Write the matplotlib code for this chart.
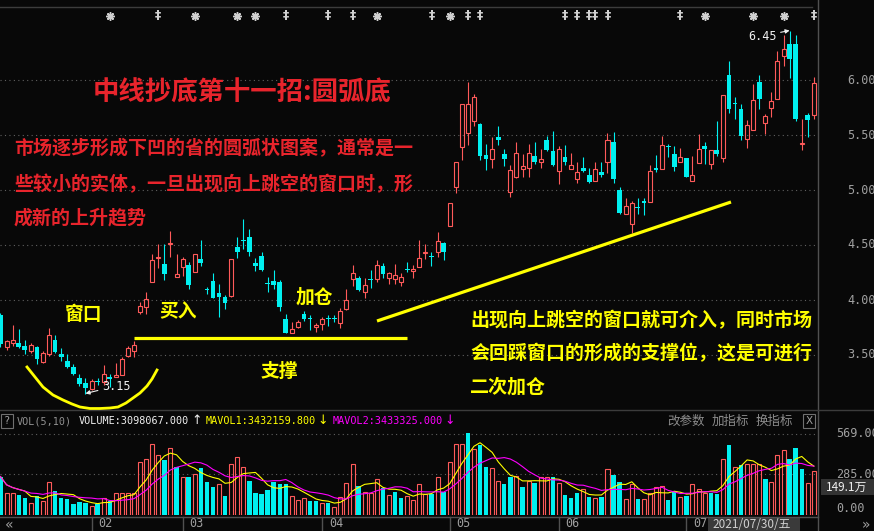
import numpy as np
import pandas as pd
import matplotlib
matplotlib.use("Agg")
import matplotlib.pyplot as plt
from matplotlib.lines import Line2D
from matplotlib.patches import Rectangle

plt.rcParams['font.family'] = ['Noto Sans CJK SC', 'DejaVu Sans']

# ---------------- data ----------------
opens = [3.86, 3.57, 3.61, 3.61, 3.58, 3.54, 3.573, 3.44, 3.51, 3.636,
         3.51, 3.445, 3.39, 3.294, 3.25, 3.194, 3.262, 3.255, 3.297, 3.30,
         3.32, 3.49, 3.54, 3.894, 3.94, 4.167, 4.378, 4.327, 4.513, 4.21,
         4.297, 4.318, 4.258, 4.373, 4.092, 4.17, 4.06, 4.027, 4.04, 4.48,
         4.538, 4.57, 4.34, 4.40, 4.146, 4.17, 4.167, 3.827, 3.703, 3.758,
         3.87, 3.829, 3.758, 3.782, 3.829, 3.830, 3.788, 3.915, 4.19, 4.2,
         4.076, 4.19, 4.188, 4.312, 4.197, 4.194, 4.167, 4.275, 4.264, 4.297,
         4.428, 4.396, 4.433, 4.515, 4.676, 5.024, 5.394, 5.52, 5.63, 5.60,
         5.318, 5.285, 5.482, 5.327, 4.985, 5.12, 5.194, 5.203, 5.309, 5.252,
         5.452, 5.355, 5.176, 5.30, 5.194, 5.097, 5.20, 5.133, 5.079, 5.164,
         5.252, 5.433, 4.997, 4.779, 4.688, 4.838, 4.90, 4.894, 5.203, 5.188,
         5.392, 5.324, 5.252, 5.291, 5.079, 5.248, 5.40, 5.233, 5.364, 5.288,
         6.045, 5.787, 5.736, 5.461, 5.542, 5.982, 5.606, 5.742, 5.83, 6.218,
         6.327, 6.327, 5.418, 5.679, 5.685]
highs = [3.88, 3.64, 3.77, 3.74, 3.64, 3.61, 3.58, 3.54, 3.75, 3.68,
         3.56, 3.51, 3.42, 3.33, 3.29, 3.28, 3.29, 3.41, 3.33, 3.43,
         3.485, 3.585, 3.63, 3.985, 4.07, 4.418, 4.51, 4.51, 4.627, 4.418,
         4.39, 4.35, 4.418, 4.545, 4.115, 4.25, 4.145, 4.045, 4.37, 4.576,
         4.736, 4.645, 4.38, 4.433, 4.206, 4.27, 4.18, 3.873, 3.80, 3.818,
         3.90, 3.864, 3.794, 3.85, 3.864, 3.864, 3.924, 4.097, 4.318, 4.218,
         4.197, 4.27, 4.364, 4.34, 4.258, 4.327, 4.248, 4.342, 4.318, 4.545,
         4.51, 4.433, 4.615, 4.53, 4.879, 5.252, 5.782, 5.98, 5.873, 5.612,
         5.418, 5.479, 5.58, 5.373, 5.227, 5.433, 5.327, 5.418, 5.433, 5.373,
         5.49, 5.536, 5.40, 5.41, 5.333, 5.255, 5.30, 5.20, 5.255, 5.255,
         5.515, 5.524, 5.024, 4.924, 4.903, 4.924, 4.924, 5.227, 5.318, 5.494,
         5.415, 5.40, 5.382, 5.291, 5.309, 5.509, 5.436, 5.36, 5.627, 5.86,
         6.173, 5.842, 5.782, 5.636, 5.964, 6.045, 5.69, 5.89, 6.264, 6.41,
         6.45, 6.41, 5.645, 5.697, 6.024]
lows = [3.57, 3.55, 3.58, 3.56, 3.51, 3.515, 3.418, 3.424, 3.494, 3.515,
        3.45, 3.38, 3.32, 3.22, 3.15, 3.18, 3.225, 3.23, 3.21, 3.30,
        3.32, 3.485, 3.485, 3.873, 3.873, 4.167, 4.29, 4.18, 4.39, 4.206,
        4.218, 4.10, 4.258, 4.31, 4.055, 4.015, 3.85, 3.915, 4.03, 4.38,
        4.464, 4.403, 4.267, 4.267, 4.076, 4.097, 3.90, 3.697, 3.697, 3.75,
        3.812, 3.727, 3.712, 3.727, 3.767, 3.80, 3.75, 3.91, 4.127, 4.082,
        4.02, 4.11, 4.167, 4.203, 4.145, 4.142, 4.13, 4.252, 4.203, 4.297,
        4.37, 4.312, 4.394, 4.364, 4.676, 4.97, 5.273, 5.41, 5.585, 5.273,
        5.18, 5.203, 5.41, 5.218, 4.94, 5.112, 5.12, 5.12, 5.233, 5.203,
        5.358, 5.218, 5.055, 5.227, 5.194, 5.067, 5.167, 5.067, 5.079, 5.12,
        5.158, 5.067, 4.785, 4.779, 4.609, 4.782, 4.773, 4.894, 5.167, 5.188,
        5.303, 5.176, 5.252, 5.115, 5.079, 5.248, 5.236, 5.188, 5.312, 5.258,
        5.703, 5.648, 5.455, 5.385, 5.542, 5.74, 5.512, 5.667, 5.83, 6.13,
        6.02, 5.63, 5.367, 5.485, 5.648]
closes = [3.60, 3.63, 3.64, 3.57, 3.545, 3.59, 3.467, 3.515, 3.68, 3.53,
          3.485, 3.39, 3.327, 3.236, 3.20, 3.267, 3.258, 3.327, 3.285, 3.318,
          3.46, 3.56, 3.588, 3.945, 4.012, 4.364, 4.382, 4.24, 4.517, 4.24,
          4.373, 4.136, 4.418, 4.333, 4.088, 4.02, 4.024, 3.976, 4.37, 4.44,
          4.534, 4.44, 4.312, 4.273, 4.143, 4.14, 3.94, 3.70, 3.733, 3.797,
          3.827, 3.825, 3.77, 3.827, 3.825, 3.827, 3.90, 4.0, 4.248, 4.09,
          4.136, 4.186, 4.318, 4.233, 4.242, 4.224, 4.206, 4.271, 4.282, 4.379,
          4.432, 4.392, 4.536, 4.44, 4.879, 5.252, 5.779, 5.779, 5.842, 5.309,
          5.282, 5.37, 5.455, 5.282, 5.179, 5.333, 5.218, 5.333, 5.258, 5.282,
          5.367, 5.227, 5.37, 5.258, 5.224, 5.16, 5.176, 5.073, 5.188, 5.136,
          5.452, 5.103, 4.794, 4.855, 4.879, 4.834, 4.882, 5.173, 5.182, 5.406,
          5.388, 5.212, 5.297, 5.115, 5.133, 5.37, 5.376, 5.36, 5.33, 5.86,
          5.74, 5.783, 5.494, 5.588, 5.818, 5.824, 5.67, 5.81, 6.17, 6.279,
          6.194, 5.648, 5.422, 5.64, 5.97]
# volume in 万 (10k shares)
volumes = [270, 154, 154, 142, 121, 83, 135, 99, 232, 168,
           121, 114, 80, 92, 85, 64, 78, 116, 99, 154,
           154, 154, 154, 374, 395, 502, 420, 383, 473, 336,
           270, 270, 289, 327, 234, 199, 218, 135, 355, 409,
           336, 241, 154, 151, 178, 234, 218, 218, 135, 107,
           121, 99, 99, 83, 83, 54, 128, 225, 355, 206,
           163, 154, 256, 192, 142, 159, 121, 135, 104, 218,
           147, 147, 270, 163, 371, 502, 502, 573, 466, 495,
           336, 330, 240, 218, 270, 275, 194, 241, 225, 265,
           270, 270, 225, 140, 121, 154, 182, 123, 121, 123,
           324, 284, 230, 111, 218, 111, 111, 158, 194, 206,
           106, 170, 123, 130, 218, 180, 154, 154, 147, 395,
           495, 336, 348, 360, 360, 360, 250, 230, 420, 457,
           390, 470, 320, 226, 309.8]
month_labels = ['02', '03', '04', '05', '06', '07']
month_start = [15, 30, 53, 74, 92, 113]
price_ticks = [3.5, 4.0, 4.5, 5.0, 5.5, 6.0]
vol_ticks = [0, 285, 569]
star_idx = [18, 32, 39, 42, 62, 74, 116, 124, 129]
dagger_idx = [26, 47, 54, 58, 71, 77, 79, 93, 95, 97, 98, 100, 112, 134]

# ---------------- figure ----------------
W, H = 874, 531
BG = '#080808'
RED = '#ff5a5a'
CYAN = '#00f0f0'
YEL = '#ffff00'
MAG = '#ff00ff'
GRAY = '#a0a0a0'
GRID = '#606060'

fig = plt.figure(figsize=(W / 100, H / 100), dpi=100)
fig.patch.set_facecolor(BG)


def box(x0, y0, x1, y1):
    return [x0 / W, 1 - y1 / H, (x1 - x0) / W, (y1 - y0) / H]


def ptext(x, y, s, **kw):
    return fig.text(x / W, 1 - y / H, s, **kw)


def pline(xs, ys, **kw):
    fig.add_artist(Line2D([x / W for x in xs], [1 - y / H for y in ys],
                          transform=fig.transFigure, **kw))


n = len(closes)
idx = np.arange(n)
O = np.array(opens); Hh = np.array(highs); L = np.array(lows); C = np.array(closes)
V = np.array(volumes, dtype=float)
XL = (-0.5 / 6.07, (818 - 0.5) / 6.07)

# ---- main price axes ----
ax = fig.add_axes(box(0, 10, 818, 410))
ax.set_facecolor(BG)
ax.set_xlim(*XL)
ax.set_ylim(3.0, 6.0 + 70 / 110)
for s in ax.spines.values():
    s.set_visible(False)
ax.set_xticks([]); ax.set_yticks([])
for p in price_ticks:
    ax.axhline(p, color=GRID, lw=0.8, ls=(0, (1, 3)), zorder=0)
    ax.text(847 / 818, p, f'{p:.2f}', transform=ax.get_yaxis_transform(),
            color=GRAY, fontsize=8.5, family='DejaVu Sans Mono',
            va='center', ha='left', clip_on=False)

up = C >= O
blo = np.minimum(O, C); bhi = np.maximum(O, C)
bh = np.maximum(bhi - blo, 0.009)
# wicks
ax.vlines(idx[up], bhi[up], Hh[up], color=RED, lw=0.8, zorder=2)
ax.vlines(idx[up], L[up], blo[up], color=RED, lw=0.8, zorder=2)
ax.vlines(idx[~up], L[~up], Hh[~up], color=CYAN, lw=0.8, zorder=2)
ax.bar(idx[up], bh[up], bottom=blo[up], width=0.66, facecolor='none',
       edgecolor=RED, linewidth=0.8, zorder=3)
ax.bar(idx[~up], bh[~up], bottom=blo[~up], width=0.78, color=CYAN,
       linewidth=0, zorder=3)

# info markers on top row
tr = ax.get_xaxis_transform()
ax.plot(star_idx, [(410 - 16) / 400] * len(star_idx), ls='none',
        marker=(8, 2, 0), ms=6, mew=1.1, color='#d0d0d0', transform=tr, clip_on=False)
for i in dagger_idx:
    ax.text(i, (410 - 16) / 400, '‡', transform=tr, color='#d0d0d0', fontsize=9,
            family='DejaVu Sans', ha='center', va='center', fontweight='bold', clip_on=False)

# extreme labels
ax.annotate('6.45', xy=(int(np.argmax(Hh)), Hh.max()), xycoords='data',
            xytext=(748 / 818, (410 - 36) / 400), textcoords='axes fraction',
            color='#f0f0f0', fontsize=8.5, family='DejaVu Sans Mono', va='center',
            arrowprops=dict(arrowstyle='-|>', color='#f0f0f0', lw=0.8,
                            shrinkA=1, shrinkB=0, mutation_scale=6))
ax.annotate('3.15', xy=(int(np.argmin(L)), L.min()), xycoords='data',
            xytext=(102 / 818, (410 - 386) / 400), textcoords='axes fraction',
            color='#f0f0f0', fontsize=8.5, family='DejaVu Sans Mono', va='center',
            arrowprops=dict(arrowstyle='-|>', color='#f0f0f0', lw=0.8,
                            shrinkA=1, shrinkB=0, mutation_scale=6))

# ---- volume axes ----
axv = fig.add_axes(box(0, 412, 818, 515))
axv.set_facecolor(BG)
axv.set_xlim(*XL)
axv.set_ylim(0, 103 / 0.14236)
for s in axv.spines.values():
    s.set_visible(False)
axv.set_xticks([]); axv.set_yticks([])
for v in vol_ticks[1:]:
    axv.axhline(v, color=GRID, lw=0.8, ls=(0, (1, 3)), zorder=0)
for v in vol_ticks:
    axv.text(836 / 818, v, f'{v:.2f}', transform=axv.get_yaxis_transform(),
             color=GRAY, fontsize=8.5, family='DejaVu Sans Mono',
             va='bottom' if v == 0 else 'center', ha='left', clip_on=False)

prevC = np.concatenate([[O[0]], C[:-1]])
vup = C > prevC
axv.bar(idx[vup], V[vup], width=0.66, facecolor='none', edgecolor=RED,
        linewidth=0.8, zorder=2)
axv.bar(idx[~vup], V[~vup], width=0.72, color=CYAN, linewidth=0, zorder=2)
ma5 = pd.Series(V).rolling(5, min_periods=1).mean()
ma10 = pd.Series(V).rolling(10, min_periods=1).mean()
axv.plot(idx, ma5, color=YEL, lw=0.8, zorder=3)
axv.plot(idx, ma10, color=MAG, lw=0.8, zorder=3)

# ---- frame lines ----
pline([818, 818], [0, 531], color='#505050', lw=1)
pline([0, 812], [7, 7], color='#3c3c3c', lw=1)
pline([0, 874], [410, 410], color='#3c3c3c', lw=1)
pline([0, 818], [517, 517], color='#505050', lw=1)

# volume header
fig.add_artist(Rectangle((1 / W, 1 - 428 / H), 12 / W, 14 / H, transform=fig.transFigure,
                         facecolor='none', edgecolor='#707070', lw=0.8))
ptext(7, 421, '?', color=GRAY, fontsize=7.5, family='DejaVu Sans Mono', ha='center', va='center')
mono = dict(family='DejaVu Sans Mono', fontsize=7.3, va='center')
ptext(17, 421, 'VOL(5,10)', color='#909090', **mono)
ptext(79, 421, 'VOLUME:3098067.000', color='#f0f0f0', **mono)
ptext(197, 421, '↑', color='#f0f0f0', fontsize=9, family='DejaVu Sans', va='center', ha='center')
ptext(206, 421, 'MAVOL1:3432159.800', color=YEL, **mono)
ptext(323, 421, '↓', color=YEL, fontsize=9, family='DejaVu Sans', va='center', ha='center')
ptext(333, 421, 'MAVOL2:3433325.000', color=MAG, **mono)
ptext(450, 421, '↓', color=MAG, fontsize=9, family='DejaVu Sans', va='center', ha='center')
for x, s in [(667, '改参数'), (712, '加指标'), (756, '换指标')]:
    ptext(x, 421, s, color='#8c8c8c', fontsize=9, va='center')
fig.add_artist(Rectangle((803 / W, 1 - 428 / H), 12 / W, 14 / H, transform=fig.transFigure,
                         facecolor='none', edgecolor='#707070', lw=0.8))
ptext(809, 421, 'X', color=GRAY, fontsize=7.5, family='DejaVu Sans', ha='center', va='center')

# cursor value box
fig.add_artist(Rectangle((821 / W, 1 - 495 / H), 53 / W, 16 / H, transform=fig.transFigure,
                         facecolor='#333333', edgecolor='none', zorder=5))
ptext(826, 487, '149.1万', color='#f0f0f0', fontsize=8.5, va='center', zorder=6)

# month axis
for lab, i in zip(month_labels, month_start):
    axv.plot([i, i], [-0.02, -0.16], transform=axv.get_xaxis_transform(),
             color='#505050', lw=1, clip_on=False)
    axv.text(i + 1.1, -0.085, lab, transform=axv.get_xaxis_transform(),
             color=GRAY, fontsize=8.5, family='DejaVu Sans Mono', va='center', clip_on=False)
fig.add_artist(Rectangle((708 / W, 0), 92 / W, 14 / H, transform=fig.transFigure,
                         facecolor='#3a3a3a', edgecolor='none'))
ptext(712, 525, '2021/07/30/五', color='#d0d0d0', fontsize=8.5, va='center')
ptext(5, 525, '«', color=GRAY, fontsize=10, family='DejaVu Sans', va='center')
ptext(862, 525, '»', color=GRAY, fontsize=10, family='DejaVu Sans', va='center')

# ---- annotations ----
ptext(242, 93, '中线抄底第十一招:圆弧底', color='#e8242c', fontsize=19,
      fontweight='bold', ha='center', va='center')
red_lines = ['市场逐步形成下凹的省的圆弧状图案，通常是一',
             '些较小的实体，一旦出现向上跳空的窗口时，形',
             '成新的上升趋势']
for y, s in zip([148.5, 184.5, 218], red_lines):
    ptext(14, y, s, color='#e8242c', fontsize=13.7, fontweight='bold', va='center')
yel_lines = ['出现向上跳空的窗口就可介入，同时市场',
             '会回踩窗口的形成的支撑位，这是可进行',
             '二次加仓']
for y, s in zip([321, 354, 387], yel_lines):
    ptext(470, y, s, color=YEL, fontsize=13.7, fontweight='bold', va='center')
for x, y, s in [(65, 315, '窗口'), (159, 312, '买入'), (296, 297, '加仓'), (261, 371, '支撑')]:
    ptext(x, y, s, color=YEL, fontsize=13.5, fontweight='bold', va='center')

# drawn lines
pline([134, 407], [338, 338], color=YEL, lw=2.3, solid_capstyle='butt')
pline([377, 731], [321, 202], color=YEL, lw=2.3, solid_capstyle='butt')
arc_x = [27, 35, 43, 53, 63, 72, 80, 90, 100, 110, 118, 126, 133, 140, 147, 152, 157]
arc_y = [367, 377, 387, 395, 400, 404, 407, 408.5, 408.5, 408, 407, 403, 398, 393, 386, 379, 370]
pline(arc_x, arc_y, color=YEL, lw=2.0)

fig.savefig('out.png', dpi=100, facecolor=BG)
